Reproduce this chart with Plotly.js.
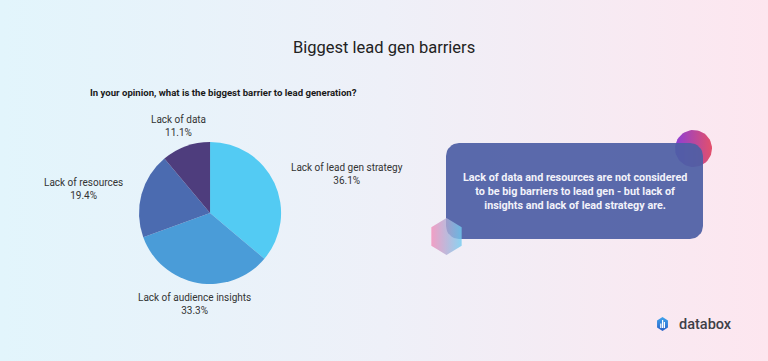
<!DOCTYPE html>
<html><head><meta charset="utf-8">
<script src="https://cdn.plot.ly/plotly-3.0.1.min.js"></script>
<style>
html,body{margin:0;padding:0;}
body{width:768px;height:361px;overflow:hidden;background:linear-gradient(90deg,#E2F5FC 0%,#EEF0F8 50%,#FDE6EF 100%);}
#chart{width:768px;height:361px;}
</style></head><body><div id="chart"></div>
<script>
// ---- data ----
const categories = ['Lack of lead gen strategy', 'Lack of audience insights', 'Lack of resources', 'Lack of data'];
const shares = [36.1, 33.3, 19.4, 11.1];
const sliceColors = ['#53CBF3', '#4A9CD8', '#4B6BB0', '#4E3D7D'];
const chartTitle = 'Biggest lead gen barriers';
const question = 'In your opinion, what is the biggest barrier to lead generation?';
const insightLines = ['Lack of data and resources are not considered', 'to be big barriers to lead gen - but lack of', 'insights and lack of lead strategy are.'];
const brand = 'databox';

// ---- layout: where each slice label sits (pixel space) ----
const labelPos = [[347, 173.5], [194, 303.5], [83, 188.5], [178, 125.5]];

// ---- decoration helpers (pixel space) ----
function roundedRect(x0, y0, x1, y1, r) {
  const xs = [], ys = [];
  const corners = [[x1 - r, y0 + r, -90], [x1 - r, y1 - r, 0], [x0 + r, y1 - r, 90], [x0 + r, y0 + r, 180]];
  corners.forEach(c => {
    for (let k = 0; k <= 8; k++) {
      const a = (c[2] + k * 90 / 8) * Math.PI / 180;
      xs.push(c[0] + r * Math.cos(a)); ys.push(c[1] + r * Math.sin(a));
    }
  });
  xs.push(xs[0]); ys.push(ys[0]);
  return {x: xs, y: ys};
}
function ring(cx, cy, rx, ry, n, start) {
  const xs = [], ys = [];
  for (let k = 0; k <= n; k++) {
    const a = (start + k * 360 / n) * Math.PI / 180;
    xs.push(cx + rx * Math.cos(a)); ys.push(cy + ry * Math.sin(a));
  }
  return {x: xs, y: ys};
}

const circ = ring(693.5, 148.5, 18.5, 18.5, 60, 0);
const box = roundedRect(446, 143, 703, 239, 13);
const hex = ring(446.5, 236.5, 17.5, 18.5, 6, -90);
const logoHex = ring(662.5, 324, 6.3, 7, 6, -90);

const deco = (pts, extra) => Object.assign({
  type: 'scatter', mode: 'lines', x: pts.x, y: pts.y, fill: 'toself',
  line: {width: 0}, hoverinfo: 'skip', showlegend: false, xaxis: 'x', yaxis: 'y'
}, extra);

const traces = [
  {
    type: 'pie', labels: categories, values: shares, sort: false, direction: 'clockwise', rotation: 0,
    marker: {colors: sliceColors, line: {width: 0}},
    textinfo: 'none',
    domain: {x: [0.181, 0.366], y: [0.213, 0.607]},
    showlegend: false, hoverinfo: 'label+percent'
  },
  deco(circ, {fillgradient: {type: 'horizontal', colorscale: [[0, '#8C3FD6'], [1, '#E3506B']]}}),
  deco(box, {fillcolor: 'rgba(78,95,165,0.93)'}),
  deco(hex, {opacity: 0.8, fillgradient: {type: 'horizontal', colorscale: [[0, '#F28BB8'], [1, '#70CCF0']]}}),
  deco(logoHex, {fillgradient: {type: 'vertical', colorscale: [[0, '#2A62C8'], [1, '#3FA3EC']]}})
];

const annotations = [
  {text: chartTitle, x: 384, y: 47, xref: 'x', yref: 'y', showarrow: false, xanchor: 'center', yanchor: 'middle',
   font: {family: 'Roboto, sans-serif', size: 16.5, color: '#222'}},
  {text: '<b>' + question + '</b>', x: 88, y: 92, xref: 'x', yref: 'y', showarrow: false, xanchor: 'left', yanchor: 'middle',
   font: {family: 'Roboto, sans-serif', size: 9.6, color: '#1a1a1a'}},
  {text: '<b>' + insightLines.join('<br>') + '</b>', x: 574.5, y: 191.5, xref: 'x', yref: 'y', showarrow: false,
   xanchor: 'center', yanchor: 'middle', align: 'center',
   font: {family: 'Roboto, sans-serif', size: 10.8, color: '#F2F2FA'}},
  {text: brand, x: 677, y: 324, xref: 'x', yref: 'y', showarrow: false, xanchor: 'left', yanchor: 'middle',
   font: {family: 'Roboto, sans-serif', size: 14.5, color: '#3E3F47', weight: 500}}
];
categories.forEach((c, i) => {
  annotations.push({
    text: c + '<br>' + shares[i].toFixed(1) + '%', x: labelPos[i][0], y: labelPos[i][1], xref: 'x', yref: 'y',
    showarrow: false, xanchor: 'center', yanchor: 'middle', align: 'center',
    font: {family: 'Roboto, sans-serif', size: 10, color: '#333'}
  });
});

const layout = {
  width: 768, height: 361, margin: {l: 0, r: 0, t: 0, b: 0},
  paper_bgcolor: 'rgba(0,0,0,0)', plot_bgcolor: 'rgba(0,0,0,0)',
  xaxis: {range: [0, 768], visible: false, fixedrange: true, domain: [0, 1]},
  yaxis: {range: [361, 0], visible: false, fixedrange: true, domain: [0, 1]},
  shapes: [
    {type: 'rect', xref: 'x', yref: 'y', x0: 660.2, x1: 661.4, y0: 323.5, y1: 328, fillcolor: '#fff', line: {width: 0}, layer: 'above'},
    {type: 'rect', xref: 'x', yref: 'y', x0: 662.0, x1: 663.2, y0: 320, y1: 328, fillcolor: '#fff', line: {width: 0}, layer: 'above'},
    {type: 'rect', xref: 'x', yref: 'y', x0: 663.8, x1: 665.0, y0: 322, y1: 328, fillcolor: '#fff', line: {width: 0}, layer: 'above'}
  ],
  annotations: annotations,
  font: {family: 'Roboto, sans-serif'}
};

Plotly.newPlot('chart', traces, layout, {displayModeBar: false, staticPlot: true});
</script></body></html>
